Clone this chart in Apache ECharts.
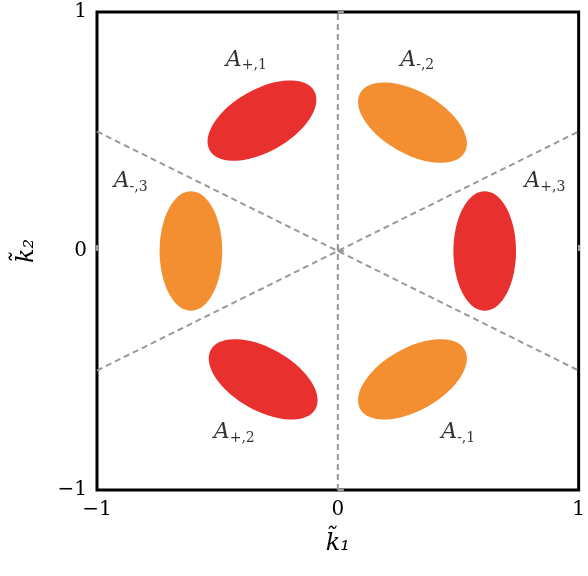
<!DOCTYPE html>
<html><head><meta charset="utf-8">
<script src="https://cdn.jsdelivr.net/npm/echarts@6/dist/echarts.min.js"></script>
<style>html,body{margin:0;padding:0;background:#fff}#c{width:588px;height:576px}</style>
</head><body><div id="c"></div>
<script>
// ellipse blobs: [angle of center (deg), radius, radial semi-axis, tangential semi-axis, colour-group]
var blobAngles = [0, 60, 120, 180, 240, 300];
var blobRadius = [0.61, 0.62, 0.63, 0.61, 0.62, 0.62];
var blobRadial = [0.13, 0.13, 0.13, 0.13, 0.13, 0.13];
var blobTangent = [0.25, 0.25, 0.25, 0.25, 0.25, 0.25];
var blobGroup = ['+', '-', '+', '-', '+', '-'];
var labelNames = ['+,1', '-,2', '-,3', '+,3', '+,2', '-,1'];
var labelPos = [[-0.38, 0.80], [0.33, 0.80], [-0.86, 0.29], [0.86, 0.29], [-0.43, -0.76], [0.50, -0.76]];
var dashLines = [[[0, -1], [0, 1]], [[-1, 0.5], [1, -0.5]], [[-1, -0.5], [1, 0.5]]];
var ticks = [-1, 0, 1];
var colors = {'+': '#e8312e', '-': '#f38e31'};

var blobData = blobAngles.map(function (a, i) {
  return [a, blobRadius[i], blobRadial[i], blobTangent[i], blobGroup[i]];
});
var series = [];
dashLines.forEach(function (l) {
  series.push({type: 'line', data: l, symbol: 'none', silent: true,
    lineStyle: {color: '#999', type: [6, 4], width: 2}});
});
series.push({
  type: 'custom', data: blobData,
  renderItem: function (params, api) {
    var th = api.value(0) * Math.PI / 180, r = api.value(1), ra = api.value(2), ta = api.value(3);
    var cx = r * Math.cos(th), cy = r * Math.sin(th);
    var pts = [];
    for (var k = 0; k < 72; k++) {
      var t = k / 72 * 2 * Math.PI;
      var u = ra * Math.cos(t), v = ta * Math.sin(t);
      pts.push(api.coord([cx + u * Math.cos(th) - v * Math.sin(th), cy + u * Math.sin(th) + v * Math.cos(th)]));
    }
    var g = blobGroup[params.dataIndex];
    return {type: 'polygon', shape: {points: pts}, style: {fill: colors[g]}};
  }
});
series.push({
  type: 'scatter', symbolSize: 0, silent: true,
  data: labelPos.map(function (p, i) { return {value: p, name: labelNames[i]}; }),
  label: {show: true, position: 'inside',
    formatter: function (p) { return '{a|A}{s|' + p.name + '}'; },
    rich: {a: {fontFamily: 'DejaVu Serif', fontStyle: 'italic', fontSize: 22, color: '#000'},
           s: {fontFamily: 'DejaVu Serif', fontSize: 14, color: '#000', verticalAlign: 'bottom', padding: [12, 0, 0, 0]}}}
});

var axisCommon = {min: -1, max: 1, interval: 1,
  axisLine: {show: false}, splitLine: {show: false},
  axisTick: {show: true, inside: true, length: 6, lineStyle: {color: '#999', width: 2}},
  axisLabel: {fontFamily: 'DejaVu Serif', fontSize: 20, color: '#000',
    formatter: function (v) { return ticks.indexOf(v) >= 0 ? (v < 0 ? '\u22121' : String(v)) : ''; }},
  nameTextStyle: {fontFamily: 'DejaVu Serif', fontStyle: 'italic', fontSize: 24, color: '#000'}
};
var chart = echarts.init(document.getElementById('c'));
chart.setOption({
  animation: false,
  grid: {left: 97, right: 6, top: 12, bottom: 86, show: true, borderColor: '#000', borderWidth: 3},
  xAxis: Object.assign({}, axisCommon, {type: 'value', name: 'k\u0303\u2081', nameLocation: 'middle', nameGap: 42,
    axisLabel: Object.assign({}, axisCommon.axisLabel, {margin: 10})}),
  yAxis: Object.assign({}, axisCommon, {type: 'value', name: 'k\u0303\u2082', nameLocation: 'middle', nameGap: 58, nameRotate: 90,
    axisLabel: Object.assign({}, axisCommon.axisLabel, {margin: 10})}),
  series: series
});
</script></body></html>
